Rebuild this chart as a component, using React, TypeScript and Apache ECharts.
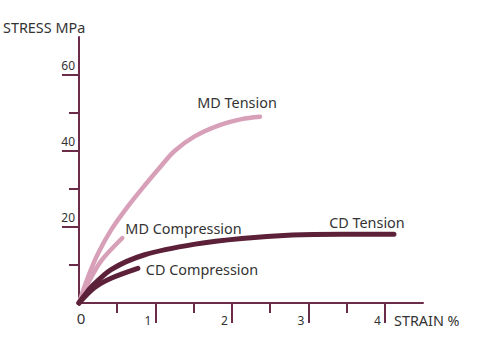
import React, { useEffect, useRef } from "react";
import * as echarts from "echarts";

// Stress–strain curves (strain in %, stress in MPa)
const mdTensionStrain = [0, 0.118, 0.249, 0.423, 0.642, 0.861, 1.079, 1.25, 1.517, 1.822, 2.128, 2.368];
const mdTensionStress = [0, 6.8, 13.0, 19.3, 25.5, 31.0, 36.2, 40.0, 43.9, 46.7, 48.4, 49.0];

const mdCompressionStrain = [0, 0.118, 0.29, 0.567];
const mdCompressionStress = [0, 5.2, 11.1, 17.1];

const cdTensionStrain = [0, 0.08, 0.16, 0.42, 0.86, 1.52, 2.13, 2.79, 3.44, 4.12];
const cdTensionStress = [0, 2.2, 4.2, 8.8, 12.7, 15.5, 17.0, 17.9, 18.1, 18.1];

const cdCompressionStrain = [0, 0.2, 0.42, 0.77];
const cdCompressionStress = [0, 4.0, 6.5, 9.1];

const xMajorTicks = [1, 2, 3, 4];
const xMinorTicks = [0.5, 1.5, 2.5, 3.5];
const xOriginLabel = [0];
const yMajorTicks = [20, 40, 60];
const yMinorTicks = [10, 30, 50];

const AXIS = "#6b2c4a";
const PINK = "#d8a0b8";
const DARK = "#5c2039";
const TEXT = "#333333";
const FONT = "Noto Sans";
const LABEL_SIZE = 14.4;

const pairs = (xs: number[], ys: number[]) => xs.map((x, i) => [x, ys[i]]);

export default function App() {
  const ref = useRef<HTMLDivElement>(null);

  useEffect(() => {
    document.body.style.margin = "0";
    if (!ref.current) return;
    const chart = echarts.init(ref.current, undefined, { renderer: "svg" });

    const lineSeries = (
      name: string,
      xs: number[],
      ys: number[],
      color: string,
      width: number,
      label: { offset: number[]; align: string }
    ) => ({
      type: "line",
      name,
      data: pairs(xs, ys),
      smooth: 0.3,
      showSymbol: false,
      symbol: "none",
      clip: false,
      lineStyle: { color, width, cap: "round", join: "round" },
      endLabel: {
        show: true,
        formatter: name,
        color: TEXT,
        fontFamily: FONT,
        fontSize: LABEL_SIZE,
        align: label.align,
        verticalAlign: "middle",
        offset: label.offset,
        distance: 0,
      },
    });

    chart.setOption({
      animation: false,
      grid: { left: 79, top: 37, right: 58, bottom: 40, containLabel: false },
      xAxis: [
        {
          type: "value",
          min: 0,
          max: 4.5,
          position: "bottom",
          axisLine: { show: true, lineStyle: { color: AXIS, width: 2 } },
          axisTick: {
            show: true,
            customValues: xMajorTicks,
            length: 20,
            lineStyle: { color: AXIS, width: 2 },
          },
          axisLabel: {
            customValues: xMajorTicks,
            color: TEXT,
            fontFamily: FONT,
            fontSize: 12,
            align: "right",
            padding: [0, 4, 0, 0],
            margin: 11,
          },
          splitLine: { show: false },
        },
        {
          type: "value",
          min: 0,
          max: 4.5,
          position: "bottom",
          axisLine: { show: false },
          axisTick: {
            show: true,
            customValues: xMinorTicks,
            length: 10,
            lineStyle: { color: AXIS, width: 2 },
          },
          axisLabel: {
            customValues: xOriginLabel,
            color: TEXT,
            fontFamily: FONT,
            fontSize: 15,
            align: "center",
            padding: [0, 0, 0, 4],
            margin: 7,
          },
          splitLine: { show: false },
        },
      ],
      yAxis: [
        {
          type: "value",
          min: 0,
          max: 70,
          position: "left",
          axisLine: { show: true, lineStyle: { color: AXIS, width: 2 } },
          axisTick: {
            show: true,
            customValues: yMinorTicks,
            length: 10,
            lineStyle: { color: AXIS, width: 2 },
          },
          axisLabel: { show: false },
          splitLine: { show: false },
        },
        {
          type: "value",
          min: 0,
          max: 70,
          position: "left",
          axisLine: { show: false },
          axisTick: {
            show: true,
            customValues: yMajorTicks,
            length: 17,
            lineStyle: { color: AXIS, width: 2 },
          },
          axisLabel: {
            customValues: yMajorTicks,
            color: TEXT,
            fontFamily: FONT,
            fontSize: 12,
            align: "right",
            verticalAlign: "bottom",
            padding: [0, 0, 4, 0],
            margin: 4,
          },
          splitLine: { show: false },
        },
      ],
      graphic: [
        {
          type: "text",
          x: 3,
          y: 27,
          style: {
            text: "STRESS MPa",
            fill: TEXT,
            fontFamily: FONT,
            fontSize: LABEL_SIZE,
            align: "left",
            verticalAlign: "middle",
          },
        },
        {
          type: "text",
          x: 394,
          y: 320,
          style: {
            text: "STRAIN %",
            fill: TEXT,
            fontFamily: FONT,
            fontSize: LABEL_SIZE,
            align: "left",
            verticalAlign: "middle",
          },
        },
      ],
      series: [
        lineSeries("MD Tension", mdTensionStrain, mdTensionStress, PINK, 4.5, {
          offset: [-23, -14],
          align: "center",
        }),
        lineSeries("MD Compression", mdCompressionStrain, mdCompressionStress, PINK, 4.5, {
          offset: [3, -10],
          align: "left",
        }),
        lineSeries("CD Tension", cdTensionStrain, cdTensionStress, DARK, 5, {
          offset: [-27, -12],
          align: "center",
        }),
        lineSeries("CD Compression", cdCompressionStrain, cdCompressionStress, DARK, 5, {
          offset: [8, 1],
          align: "left",
        }),
      ],
    });

    return () => chart.dispose();
  }, []);

  return <div ref={ref} style={{ width: 481, height: 343 }} />;
}
